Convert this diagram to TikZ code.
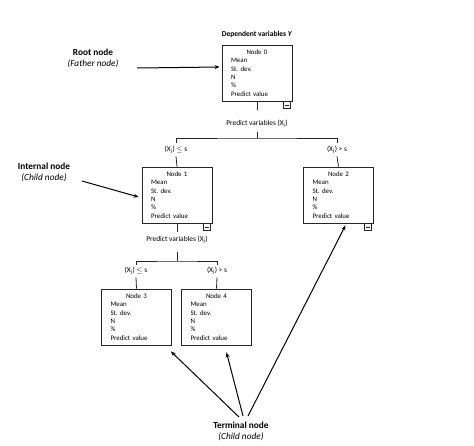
\documentclass[tikz,border=0pt]{standalone}
\usepackage{fontspec}
\setmainfont{Carlito}
\usetikzlibrary{arrows.meta}
\frenchspacing
\begin{document}
\begin{tikzpicture}[x=1pt,y=-1pt,
  box/.style={draw=black!85,line width=0.8pt,minimum width=70pt,minimum height=56pt,
    text width=52pt,align=left,inner xsep=9pt,inner ysep=2.5pt,
    font=\fontsize{6.9}{8.3}\selectfont,anchor=center},
  minusbox/.style={draw=black!85,line width=0.6pt,minimum size=7pt,inner sep=0pt,anchor=north east,
    path picture={\draw[line width=0.6pt] ([xshift=1.6pt]path picture bounding box.west) -- ([xshift=-1.6pt]path picture bounding box.east);}},
  lab/.style={font=\fontsize{7.4}{8}\selectfont,inner sep=1.5pt},
  tree/.style={draw=black!85,line width=0.8pt},
  ann/.style={font=\fontsize{9.3}{11}\selectfont,align=center},
  pointer/.style={line width=1pt,-{Stealth[length=5pt,width=4pt]}}
]
\useasboundingbox (0,0) rectangle (474,445);

% title
\node[font=\bfseries\fontsize{7.5}{8}\selectfont] (title) at (257,34) {Dependent variables \textit{Y}};

% boxes
\node[box] (n0) at (257,73) {\makebox[\linewidth]{Node 0}\\Mean\\St. dev.\\N\\\%\\Predict value};
\node[box] (n1) at (177,195) {\makebox[\linewidth]{Node 1}\\Mean\\St. dev.\\N\\\%\\Predict value};
\node[box] (n2) at (338.5,195) {\makebox[\linewidth]{Node 2}\\Mean\\St. dev.\\N\\\%\\Predict value};
\node[box] (n3) at (136.5,317) {\makebox[\linewidth]{Node 3}\\Mean\\St. dev.\\N\\\%\\Predict value};
\node[box] (n4) at (216.5,317) {\makebox[\linewidth]{Node 4}\\Mean\\St. dev.\\N\\\%\\Predict value};

% minus boxes
\node[minusbox] (m0) at ([xshift=-2pt]n0.south east) {};
\node[minusbox] (m1) at ([xshift=-2pt]n1.south east) {};
\node[minusbox] (m2) at ([xshift=-2pt]n2.south east) {};

% level 1 split
\coordinate (c0) at (257,110);
\node[lab] (pv0) at (257,124) {Predict variables (X\textsubscript{j})};
\coordinate (j0) at (257,138);
\node[lab] (l1) at (176,150) {(X\textsubscript{j}) $\le$ s};
\node[lab] (l2) at (337,150) {(X\textsubscript{j}) > s};
\draw[tree] (n0.south) -- (c0);
\draw[tree] ([yshift=-3pt]pv0.south) -- (j0);
\draw[tree] ([yshift=2pt]l1.north) |- (j0) -| ([yshift=2pt]l2.north);
\draw[tree] ([yshift=-1pt]l1.south) -- (n1.north);
\draw[tree] ([yshift=-1pt]l2.south) -- (n2.north);

% level 2 split
\coordinate (c1) at (177,232);
\node[lab] (pv1) at (177,240) {Predict variables (X\textsubscript{j})};
\coordinate (j1) at (177,261);
\node[lab] (l3) at (136,271) {(X\textsubscript{j}) $\le$ s};
\node[lab] (l4) at (217,271) {(X\textsubscript{j}) > s};
\draw[tree] (n1.south) -- (c1);
\draw[tree] ([yshift=-7pt]pv1.south) -- (j1);
\draw[tree] ([yshift=1pt]l3.north) |- (j1) -| ([yshift=1pt]l4.north);
\draw[tree] ([yshift=-1pt]l3.south) -- (n3.north);
\draw[tree] ([yshift=-1pt]l4.south) -- (n4.north);

% annotations
\node[ann] (root) at (93,58) {\textbf{Root node}\\\textit{(Father node)}};
\coordinate (a0) at (137,68);
\draw[pointer] (a0) -- ([yshift=6pt,xshift=-2pt]n0.west);

\node[ann] (inter) at (44,172) {\textbf{Internal node}\\\textit{(Child node)}};
\coordinate (a1) at (82,181);
\draw[pointer] (a1) -- ([yshift=-2pt,xshift=-3pt]n1.west);

\node[ann] (term) at (241,431) {\textbf{Terminal node}\\\textit{(Child node)}};
\coordinate (t1) at (239,417);
\coordinate (t2) at (243,416);
\coordinate (t3) at (248,416);
\draw[pointer] (t1) -- ([xshift=-1pt,yshift=-6pt]n3.south east);
\draw[pointer] (t2) -- ([xshift=10pt,yshift=-7pt]n4.south);
\draw[pointer] (t3) -- ([xshift=7pt,yshift=-2pt]n2.south);
\end{tikzpicture}
\end{document}
